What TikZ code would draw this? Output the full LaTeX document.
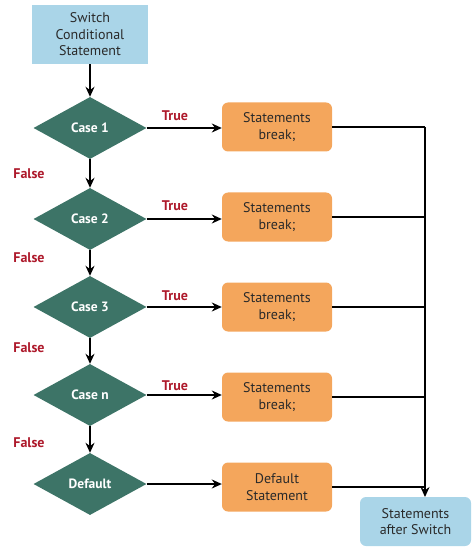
\documentclass[tikz,border=0pt]{standalone}
\usepackage{fontspec}
\setmainfont{PT Sans}
\usetikzlibrary{shapes.geometric,arrows.meta}
\definecolor{lblue}{HTML}{AAD5E8}
\definecolor{teal}{HTML}{3D7467}
\definecolor{orng}{HTML}{F4A65C}
\definecolor{redt}{HTML}{AE1A2C}
\definecolor{txt}{HTML}{2A2A2A}
\begin{document}
\begin{tikzpicture}[x=1pt,y=-1pt,
  startbox/.style={rectangle,fill=lblue,minimum width=116pt,minimum height=59pt,inner sep=0pt,align=center,text=txt,font=\fontsize{14}{16.5}\selectfont},
  endbox/.style={rectangle,rounded corners=6pt,fill=lblue,minimum width=111pt,minimum height=49pt,inner sep=0pt,align=center,text=txt,font=\fontsize{14}{16.5}\selectfont},
  casebox/.style={diamond,fill=teal,minimum width=113pt,minimum height=62pt,inner sep=0pt,aspect=1.82,text=white,font=\bfseries\fontsize{13.5}{15}\selectfont},
  stmtbox/.style={rectangle,rounded corners=6pt,fill=orng,minimum width=110pt,minimum height=49pt,inner sep=0pt,align=center,text=txt,font=\fontsize{14}{16.5}\selectfont},
  lbl/.style={text=redt,font=\bfseries\fontsize{14}{15}\selectfont,inner sep=0pt},
  arr/.style={line width=1.4pt,-{Stealth[length=10pt,width=9pt]}},
  ln/.style={line width=1.4pt}]
\useasboundingbox (0,0) rectangle (474,553);
\node[startbox] (start) at (90,34.5) {Switch\\Conditional\\Statement};
\node[casebox] (c1) at (90,128) {Case 1};
\node[casebox] (c2) at (90,219) {Case 2};
\node[casebox] (c3) at (90,307) {Case 3};
\node[casebox] (cn) at (90,395) {Case n};
\node[casebox] (cd) at (90,484) {Default};
\node[stmtbox] (s1) at (277,127) {Statements\\break;};
\node[stmtbox] (s2) at (277,217) {Statements\\break;};
\node[stmtbox] (s3) at (277,307) {Statements\\break;};
\node[stmtbox] (sn) at (277,397) {Statements\\break;};
\node[stmtbox] (sd) at (277,487) {Default\\Statement};
\node[endbox] (end) at (415.5,521.5) {Statements\\after Switch};
\coordinate (j1) at (425,127);
\coordinate (jend) at (425,497);
\draw[arr] (start) -- (c1);
\draw[arr] (c1) -- (c2);
\draw[arr] (c2) -- (c3);
\draw[arr] (c3) -- (cn);
\draw[arr] (cn) -- (cd);
\draw[arr] (c1.east) -- (s1.west |- c1.east);
\draw[arr] (c2.east) -- (s2.west |- c2.east);
\draw[arr] (c3.east) -- (s3.west |- c3.east);
\draw[arr] (cn.east) -- (sn.west |- cn.east);
\draw[arr] (cd.east) -- (sd.west |- cd.east);
\draw[ln] (s1.east) -- (j1);
\draw[ln] (s2.east) -- (s2.east -| j1);
\draw[ln] (s3.east) -- (s3.east -| j1);
\draw[ln] (sn.east) -- (sn.east -| j1);
\draw[ln] (sd.east) -- (sd.east -| j1);
\draw[arr] (j1) -- (jend);
\node[lbl] (t1) at (175,116) {True};
\node[lbl] (t2) at (175,206) {True};
\node[lbl] (t3) at (175,296) {True};
\node[lbl] (tn) at (175,386) {True};
\node[lbl] (f1) at (29,174) {False};
\node[lbl] (f2) at (29,258) {False};
\node[lbl] (f3) at (29,348) {False};
\node[lbl] (fn) at (29,443) {False};
\end{tikzpicture}
\end{document}
